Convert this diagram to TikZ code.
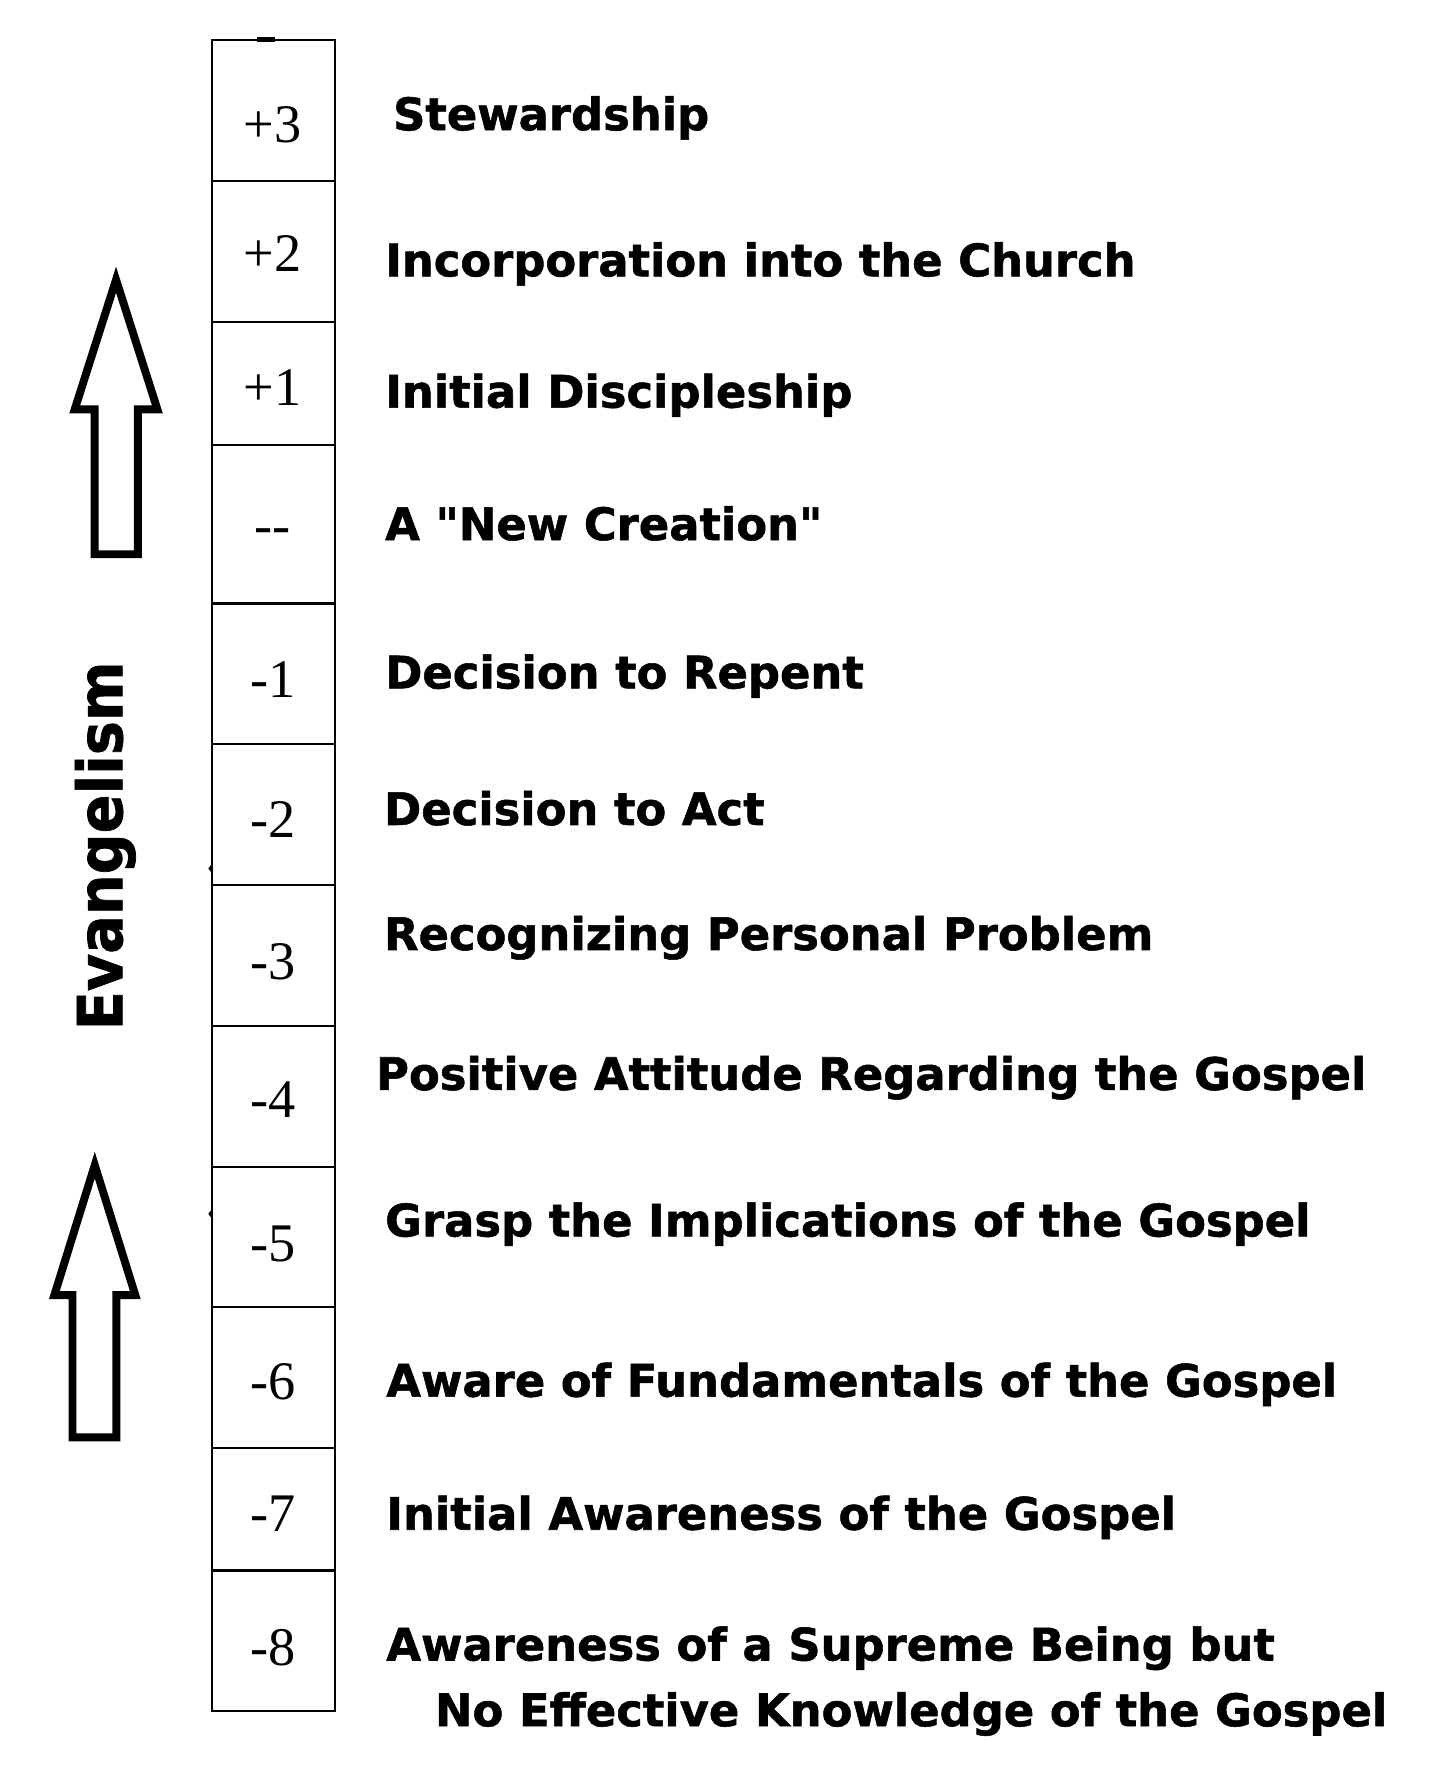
\documentclass[tikz,border=0pt]{standalone}
\usepackage{fontspec}
\setmainfont{Liberation Serif}
\newfontfamily\labfont{DejaVu Sans}[BoldFeatures={FakeBold=1.2}]
\begin{document}
\begin{tikzpicture}[x=1pt,y=-1pt,
  lbl/.style={anchor=base west, inner sep=0pt, font=\labfont\bfseries\fontsize{39.6}{39.6}\selectfont},
  num/.style={anchor=base, inner sep=0pt, font=\fontsize{48}{48}\selectfont},
  cellline/.style={draw, line width=1.8pt},
  bigarrow/.style={draw, line width=7pt, line join=miter, fill=white},
  vlabel/.style={anchor=base, rotate=90, inner sep=0pt, font=\labfont\bfseries\fontsize{55}{55}\selectfont}]
\fill[white] (0,0) rectangle (1270,1569.4);
\useasboundingbox (0,0) rectangle (1270,1569.4);

% column of cells
\draw[cellline] (187,35) rectangle (296,1511);
\foreach \yy in {159.5,284,393,533,657,781.6,906,1030.6,1154.5,1278.5,1387}
  \draw[cellline] (187,\yy) -- (296,\yy);
% small marks
\draw[line width=5pt] (227,35) -- (243,35);
\fill (187,763) -- (184,767) -- (187,771) -- cycle;
\fill (187,1068) -- (184,1072) -- (187,1076) -- cycle;

% numbers
\node[num] (n3)  at (241,126)  {+3};
\node[num] (n2)  at (241,240)  {+2};
\node[num] (n1)  at (241,358)  {+1};
\node[num] (n0)  at (241,480)  {-{}-};
\node[num] (m1)  at (241,616)  {-1};
\node[num] (m2)  at (241,740)  {-2};
\node[num] (m3)  at (241,865)  {-3};
\node[num] (m4)  at (241,987)  {-4};
\node[num] (m5)  at (241,1114) {-5};
\node[num] (m6)  at (241,1236) {-6};
\node[num] (m7)  at (241,1353) {-7};
\node[num] (m8)  at (241,1471) {-8};

% labels
\node[lbl] (l3)  at (347,115)  {Stewardship};
\node[lbl] (l2)  at (340,244)  {Incorporation into the Church};
\node[lbl] (l1)  at (340,360)  {Initial Discipleship};
\node[lbl] (l0)  at (340,477)  {A "New Creation"};
\node[lbl] (k1)  at (340,608)  {Decision to Repent};
\node[lbl] (k2)  at (339,728.6){Decision to Act};
\node[lbl] (k3)  at (339,839)  {Recognizing Personal Problem};
\node[lbl] (k4)  at (332,962.6){Positive Attitude Regarding the Gospel};
\node[lbl] (k5)  at (340,1092) {Grasp the Implications of the Gospel};
\node[lbl] (k6)  at (341,1233.5){Aware of Fundamentals of the Gospel};
\node[lbl] (k7)  at (341,1351) {Initial Awareness of the Gospel};
\node[lbl] (k8a) at (341,1466.5){Awareness of a Supreme Being but};
\node[lbl] (k8b) at (384,1524.5){No Effective Knowledge of the Gospel};

% side label
\node[vlabel] (ev) at (108,747) {\scalebox{0.92}[1]{Evangelism}};

% block arrows
\draw[bigarrow] (102.5,247) -- (66,361.5) -- (83.5,361.5) -- (83.5,489.5)
  -- (121.7,489.5) -- (121.7,361.5) -- (139,361.5) -- cycle;
\draw[bigarrow] (83.7,1029) -- (48,1143.8) -- (64,1143.8) -- (64,1269.4)
  -- (102.8,1269.4) -- (102.8,1143.8) -- (119.5,1143.8) -- cycle;
\end{tikzpicture}
\end{document}
